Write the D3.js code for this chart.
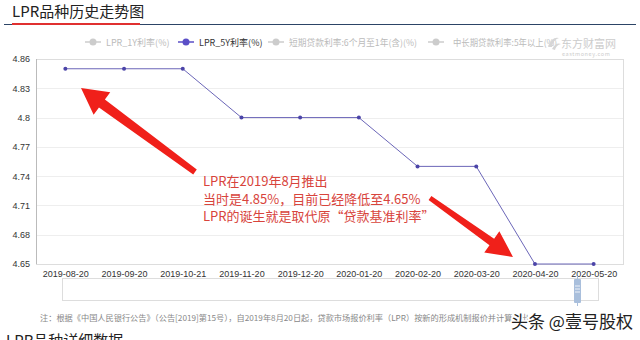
<!DOCTYPE html>
<html><head><meta charset="utf-8">
<script src="https://cdn.jsdelivr.net/npm/d3@7"></script>
<style>body{margin:0;background:#fff;}svg{display:block;font-family:"Noto Sans CJK SC","Liberation Sans",sans-serif;}</style>
</head><body><svg id="c" width="640" height="340"></svg>
<script>
const dates = ["2019-08-20","2019-09-20","2019-10-21","2019-11-20","2019-12-20","2020-01-20","2020-02-20","2020-03-20","2020-04-20","2020-05-20"];
const lpr5y = [4.85,4.85,4.85,4.80,4.80,4.80,4.75,4.75,4.65,4.65];
const yTicks = [4.65,4.68,4.71,4.74,4.77,4.80,4.83,4.86];
const yTickLabels = ["4.65","4.68","4.71","4.74","4.77","4.8","4.83","4.86"];
const legendItems = ["LPR_1Y利率(%)","LPR_5Y利率(%)","短期贷款利率:6个月至1年(含)(%)","中长期贷款利率:5年以上(%)"];
const legendActive = [false,true,false,false];
const annotation = ["LPR在2019年8月推出","当时是4.85%，目前已经降低至4.65%","LPR的诞生就是取代原“贷款基准利率”"];
const note = "注：根据《中国人民银行公告》（公告[2019]第15号），自2019年8月20日起，贷款市场报价利率（LPR）按新的形成机制报价并计算得出";

const svg = d3.select("#c");
const L=36,R=623,T=59,B=264;
const x = d3.scalePoint().domain(dates).range([L,R]).padding(0.5);
const y = d3.scaleLinear().domain([4.65,4.86]).range([B,T]);

// title
svg.append("text").attr("x",12).attr("y",17).attr("font-size",15).attr("fill","#222").text("LPR品种历史走势图");
svg.append("line").attr("x1",4).attr("x2",636).attr("y1",24.5).attr("y2",24.5).attr("stroke","#2c4466").attr("stroke-width",1.2);
svg.append("line").attr("x1",12).attr("x2",140).attr("y1",24).attr("y2",24).attr("stroke","#e03030").attr("stroke-width",2);

// legend
const lx=[85,178,268,428];
const lw=[null,null,128,104];
legendItems.forEach((t,i)=>{
  const g=svg.append("g").attr("transform",`translate(${lx[i]},42)`);
  const col = legendActive[i]?"#5b4fc7":"#ccc";
  g.append("line").attr("x1",0).attr("x2",16).attr("stroke",col).attr("stroke-width",1.5);
  g.append("circle").attr("cx",8).attr("r",3.5).attr("fill",col);
  const tx=g.append("text").attr("x",i===3?25:21).attr("y",3.5).attr("font-size",9).attr("fill",legendActive[i]?"#333":"#bbb").text(t);
  if(lw[i]) tx.attr("textLength",lw[i]).attr("lengthAdjust","spacingAndGlyphs");
});
// watermark logo
svg.append("path").attr("d","M548,47 Q552,36 559,38 Q553,40 552,47 Z M552,49 Q556,42 561,44 Q556,45 555,50 Z").attr("fill","#d6d6d6");
svg.append("text").attr("x",561).attr("y",48).attr("font-size",11).attr("fill","#ccc").attr("font-family","Noto Sans CJK SC").text("东方财富网");
svg.append("text").attr("x",562).attr("y",56).attr("font-size",5.5).attr("fill","#ccc").attr("letter-spacing",0.6).text("eastmoney.com");

// grid
svg.append("g").selectAll("line").data(yTicks).join("line")
  .attr("x1",L).attr("x2",R).attr("y1",d=>Math.round(y(d))+0.5).attr("y2",d=>Math.round(y(d))+0.5)
  .attr("stroke","#eee");
svg.append("rect").attr("x",L+0.5).attr("y",T+0.5).attr("width",R-L).attr("height",B-T).attr("fill","none").attr("stroke","#ddd");
svg.append("line").attr("x1",L+0.5).attr("x2",L+0.5).attr("y1",T).attr("y2",B).attr("stroke","#bbb");

// y axis
const ya = d3.axisLeft(y).tickValues(yTicks).tickFormat((d,i)=>yTickLabels[i]).tickSize(0).tickPadding(6);
svg.append("g").attr("transform",`translate(${L},0)`).call(ya)
  .call(g=>g.select(".domain").remove())
  .call(g=>g.selectAll("text").attr("font-size",9).attr("fill","#333").attr("font-family","Liberation Sans, sans-serif"));
// x axis
const xa = d3.axisBottom(x).tickSize(0).tickPadding(7);
svg.append("g").attr("transform",`translate(0,${B})`).call(xa)
  .call(g=>g.select(".domain").remove())
  .call(g=>g.selectAll("text").attr("font-size",9).attr("fill","#333").attr("font-family","Liberation Sans, sans-serif"));

// line
const line = d3.line().x((d,i)=>x(dates[i])).y(d=>y(d));
svg.append("path").datum(lpr5y).attr("d",line).attr("fill","none").attr("stroke","#6b66b8").attr("stroke-width",1);
svg.append("g").selectAll("circle").data(lpr5y).join("circle")
  .attr("cx",(d,i)=>x(dates[i])).attr("cy",d=>y(d)).attr("r",2).attr("fill","#4b44a8");

// slider
svg.append("rect").attr("x",62.5).attr("y",278.5).attr("width",536).attr("height",22).attr("fill","none").attr("stroke","#ddd");
svg.append("rect").attr("x",574).attr("y",279).attr("width",7).attr("height",24).attr("fill","#a9bfdc").attr("rx",1);
svg.append("line").attr("x1",577.5).attr("x2",577.5).attr("y1",276).attr("y2",306).attr("stroke","#a9bfdc");
[286,289,292].forEach(yy=>svg.append("line").attr("x1",575).attr("x2",580).attr("y1",yy).attr("y2",yy).attr("stroke","#fff").attr("stroke-width",0.8));

// note
svg.append("text").attr("x",40).attr("y",321).attr("font-size",8.2).attr("fill","#888").attr("font-family","Noto Sans CJK SC").text(note);

// bottom partial title
svg.append("text").attr("x",6).attr("y",346).attr("font-size",15).attr("fill","#222").text("LPR品种详细数据");

// arrows
function arrow(x1,y1,x2,y2,w,hw,hl){
  const dx=x2-x1, dy=y2-y1, len=Math.hypot(dx,dy), ux=dx/len, uy=dy/len, px=-uy, py=ux;
  const bx=x2-ux*hl, by=y2-uy*hl;
  const pts=[[x1+px*w*0.3,y1+py*w*0.3],[bx+px*w/2,by+py*w/2],[bx+px*hw,by+py*hw],[x2,y2],[bx-px*hw,by-py*hw],[bx-px*w/2,by-py*w/2],[x1-px*w*0.3,y1-py*w*0.3]];
  svg.append("path").attr("d",d3.line()(pts)+"Z").attr("fill","#f0201a");
}
arrow(195,172,81,88,10,14,26);
arrow(430,198,513,257,8,13,26);

// annotation
annotation.forEach((t,i)=>{
  svg.append("text").attr("x",203).attr("y",186+i*17.5).attr("font-size",13).attr("fill","#d8443c").text(t);
});

// watermark
svg.append("text").attr("x",511).attr("y",328).attr("font-size",17).attr("fill","#222")
  .attr("stroke","#fff").attr("stroke-width",3).attr("paint-order","stroke").text("头条 @壹号股权");
</script></body></html>
